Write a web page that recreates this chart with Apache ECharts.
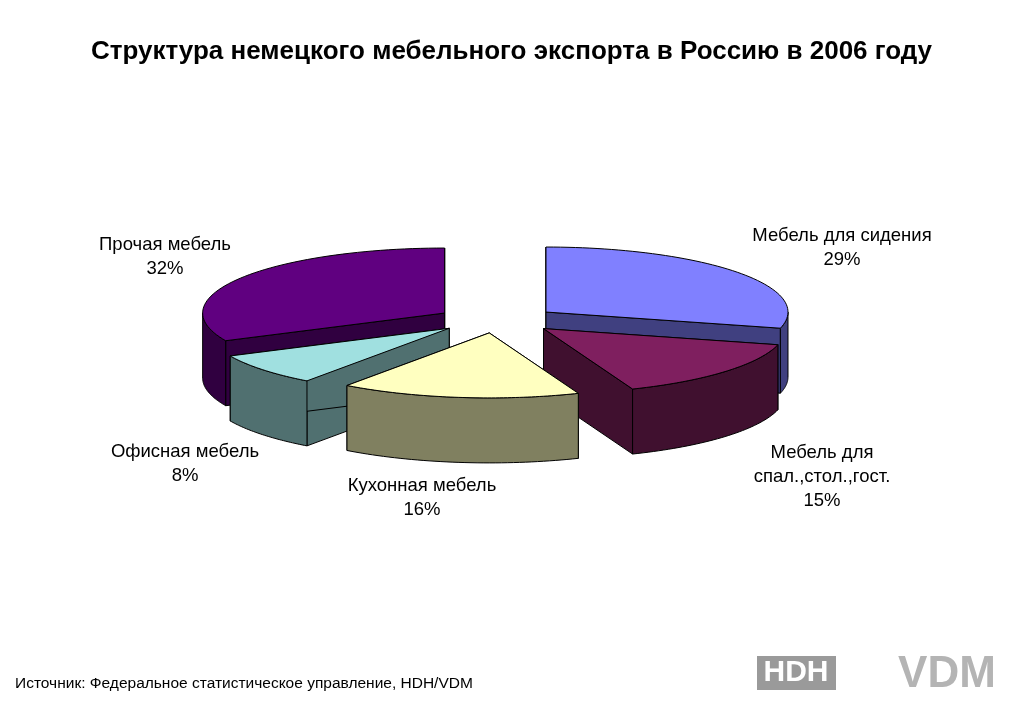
<!DOCTYPE html>
<html><head><meta charset="utf-8">
<script src="https://cdn.jsdelivr.net/npm/echarts@6/dist/echarts.min.js"></script>
<style>html,body{margin:0;background:#fff}#c{width:1023px;height:708px}</style>
</head><body><div id="c"></div>
<script>
// данные (порядок по часовой стрелке от 12 часов)
const names = ['Мебель для сидения', 'Мебель для\nспал.,стол.,гост.', 'Кухонная мебель', 'Офисная мебель', 'Прочая мебель'];
const values = [29, 15, 16, 8, 32];
const topColors = ['#8080FF', '#7F1F5F', '#FFFFC0', '#A0E0E0', '#600080'];
const sideColors = ['#404080', '#40102F', '#808060', '#507070', '#300040'];

const total = values.reduce((a, b) => a + b, 0);
const starts = [];
values.reduce((acc, v) => { starts.push(acc); return acc + v; }, 0);

const CX = 497, CY = 320, RX = 242, RY = 65, DEPTH = 65, EX = 62, EY = 13;

function pt(a, ox, oy, dz) {
    return [CX + ox + RX * Math.sin(a), CY + oy - RY * Math.cos(a) + (dz || 0)];
}

function renderItem(params, api) {
    const i = params.dataIndex;
    const a0 = starts[i] / total * Math.PI * 2;
    const a1 = (starts[i] + values[i]) / total * Math.PI * 2;
    const mid = (a0 + a1) / 2;
    const ox = EX * Math.sin(mid), oy = -EY * Math.cos(mid);
    const c = [CX + ox, CY + oy];
    const cb = [c[0], c[1] + DEPTH];
    const z = Math.round((1 - Math.cos(mid)) * 10);
    const line = { stroke: '#000', lineWidth: 1 };
    const children = [];
    // радиальные стенки
    [a0, a1].forEach(a => {
        const p = pt(a, ox, oy), pb = pt(a, ox, oy, DEPTH);
        children.push({ type: 'polygon', z2: z * 10 + 1, shape: { points: [c, p, pb, cb] }, style: Object.assign({ fill: sideColors[i] }, line) });
    });
    // внешняя стенка (видимая часть)
    const s = Math.max(a0, Math.PI / 2), e = Math.min(a1, Math.PI * 1.5);
    if (e > s) {
        const top = [], bot = [];
        for (let k = 0; k <= 40; k++) {
            const a = s + (e - s) * k / 40;
            top.push(pt(a, ox, oy));
            bot.unshift(pt(a, ox, oy, DEPTH));
        }
        children.push({ type: 'polygon', z2: z * 10 + 2, shape: { points: top.concat(bot) }, style: Object.assign({ fill: sideColors[i] }, line) });
    }
    // верхняя грань
    const face = [c];
    for (let k = 0; k <= 60; k++) face.push(pt(a0 + (a1 - a0) * k / 60, ox, oy));
    children.push({ type: 'polygon', z2: z * 10 + 3, shape: { points: face }, style: Object.assign({ fill: topColors[i] }, line) });
    return { type: 'group', children: children };
}

const labelPos = [[842, 236], [822, 453], [422, 486], [185, 452], [165, 245]];
const labels = names.map((n, i) => ({
    type: 'text', x: labelPos[i][0], y: labelPos[i][1] - 12,
    style: { text: n + '\n' + values[i] + '%', align: 'center', font: '18.5px "Liberation Sans", Arial', lineHeight: 24, fill: '#000' }
}));

const chart = echarts.init(document.getElementById('c'));
chart.setOption({
    backgroundColor: '#fff',
    title: { text: 'Структура немецкого мебельного экспорта в Россию в 2006 году', left: 'center', top: 34,
        textStyle: { fontFamily: '"Liberation Sans", Arial', fontSize: 26, fontWeight: 'bold', color: '#000' } },
    xAxis: { show: false }, yAxis: { show: false },
    series: [{ type: 'custom', coordinateSystem: 'none', renderItem: renderItem, data: values }],
    graphic: labels.concat([
        { type: 'text', x: 15, y: 676, style: { text: 'Источник: Федеральное статистическое управление, HDH/VDM', font: '15.5px "Liberation Sans", Arial', fill: '#000' } },
        { type: 'rect', shape: { x: 757, y: 656, width: 79, height: 34 }, style: { fill: '#9a9a9a' } },
        { type: 'text', x: 796, y: 673, style: { text: 'HDH', align: 'center', verticalAlign: 'middle', font: 'bold 30px "Liberation Sans", Arial', fill: '#fff' } },
        { type: 'text', x: 947, y: 675, style: { text: 'VDM', align: 'center', verticalAlign: 'middle', font: 'bold 44px "Liberation Sans", Arial', fill: '#b4b4b4' } }
    ])
});
</script></body></html>
